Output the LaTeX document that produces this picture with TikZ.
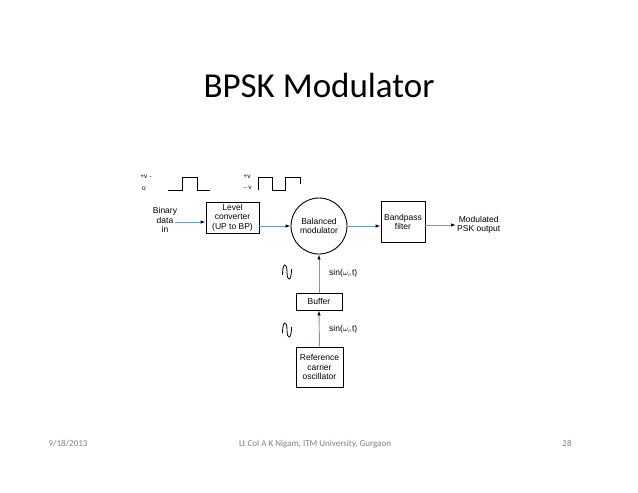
\documentclass[tikz,border=0pt]{standalone}
\usepackage{fontspec}
\setmainfont{Liberation Sans}
\newfontfamily\calib{Carlito}
\usetikzlibrary{arrows.meta}
\definecolor{ln}{HTML}{6A9AD0}
\begin{document}
\begin{tikzpicture}[x=1pt,y=-1pt,
  blk/.style={draw,line width=0.9pt,align=center,font=\fontsize{8.5}{9.5}\selectfont,inner sep=0pt},
  lbl/.style={align=center,font=\fontsize{8.5}{9.5}\selectfont,inner sep=1pt},
  con/.style={ln,line width=0.9pt,-{Latex[black,length=5pt,width=3.5pt]}},
  wave/.style={line width=0.9pt,line join=miter}]
\useasboundingbox (0,0) rectangle (638,493);
\node[font=\calib\fontsize{35}{40}\selectfont] (title) at (319,85) {BPSK Modulator};
\node[blk,minimum width=53pt,minimum height=31pt] (lc) at (232.5,217.5) {Level\\converter\\(UP to BP)};
\node[draw,line width=0.9pt,circle,minimum size=56pt,inner sep=0pt,align=center,font=\fontsize{8.5}{9.5}\selectfont] (bm) at (319,226) {Balanced\\modulator};
\node[blk,minimum width=44pt,minimum height=41pt] (bp) at (403,222) {Bandpass\\filter};
\node[blk,minimum width=46pt,minimum height=17pt] (buf) at (319,301.5) {Buffer};
\node[blk,minimum width=47pt,minimum height=40pt] (ref) at (319.5,367) {Reference\\carrier\\oscillator};
\node[lbl] (bin) at (165,220) {Binary\\data\\in};
\node[lbl,anchor=west] (out) at (456,225) {Modulated\\PSK output};
\coordinate (binr) at (175,222);
\draw[con] (binr) -- (lc.west|-binr);
\draw[con] (lc.east|-bm) -- (bm.west);
\draw[con] (bm.east) -- (bp.west|-bm);
\draw[con] (bp.east|-out) -- (out.west);
\draw[con] (buf.north) -- (bm.south);
\draw[con] (ref.north) -- (buf.south);
\node[lbl,anchor=west] (s1) at (328,273) {sin($\omega_c$t)};
\node[lbl,anchor=west] (s2) at (328,329) {sin($\omega_c$t)};
\foreach \y in {272,330}{
  \draw[line width=0.8pt] (282.5,\y+3) .. controls (282.5,\y-10) and (287,\y-10) .. (287,\y) .. controls (287,\y+10) and (291.5,\y+10) .. (291.5,\y-3);
}
\node[font=\fontsize{6.5}{7}\selectfont] (pv1) at (146,177) {+v\,\,-};
\node[font=\fontsize{6.5}{7}\selectfont] (z1) at (144,189) {o};
\draw[wave] (168,190) -- (182,190) -- (182,177) -- (197,177) -- (197,190) -- (210,190);
\node[font=\fontsize{6.5}{7}\selectfont] (pv2) at (247,177) {+v};
\node[font=\fontsize{6.5}{7}\selectfont] (mv2) at (247,188) {$-$v};
\draw[wave] (258,190) -- (258,177) -- (272,177) -- (272,190) -- (285,190) -- (285,177) -- (300,177) -- (300,184);
\begin{scope}[font=\calib\fontsize{9}{10}\selectfont,text=gray,anchor=base]
\node (d) at (68,446) {9/18/2013};
\node (a) at (315,446) {Lt Col A K Nigam, ITM University, Gurgaon};
\node (p) at (567,446) {28};
\end{scope}
\end{tikzpicture}
\end{document}
